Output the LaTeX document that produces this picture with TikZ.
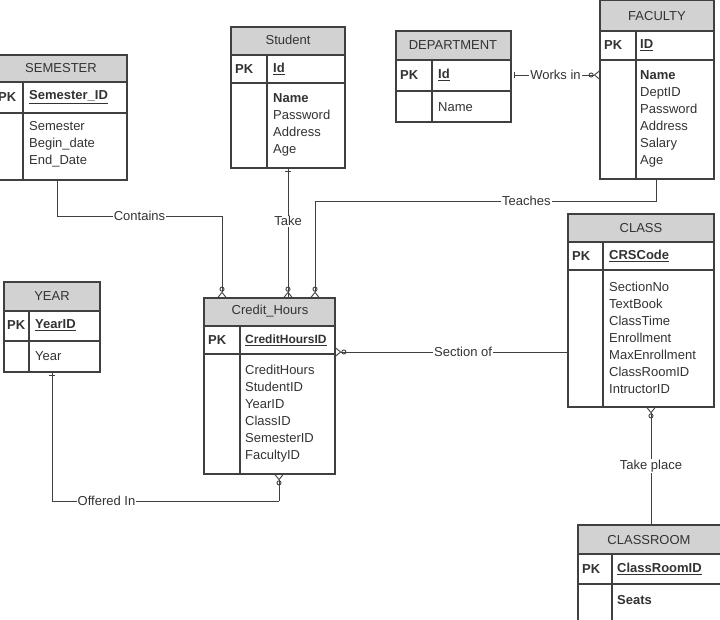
\documentclass[tikz,border=0pt]{standalone}
\usepackage{fontspec}
\setmainfont{Liberation Sans}
\usetikzlibrary{arrows.meta}
\newcommand\ert[8]{%
  \fill[gray!35] (#2,#5) rectangle (#3,#6);
  \draw[tline] (#2,#5) rectangle (#3,#8);
  \draw[tline] (#2,#6) -- (#3,#6) (#2,#7) -- (#3,#7) (#4,#6) -- (#4,#8);
  \node[inner sep=0pt,minimum width=#3pt-#2pt,minimum height=#8pt-#5pt] (#1) at ({(#2+#3)/2},{(#5+#8)/2}) {};
}
\begin{document}
\begin{tikzpicture}[x=1pt,y=-1pt,
  tline/.style={line width=1.1pt,draw=black!75},
  conn/.style={line width=0.9pt,draw=black!75},
  txt/.style={font=\fontsize{13}{17}\selectfont,inner sep=0pt,text=black!80},
  ttl/.style={txt},
  pk/.style={txt,font=\fontsize{13}{17}\selectfont\bfseries,anchor=west},
  body/.style={txt,anchor=north west,align=left},
  lab/.style={txt,fill=white,inner sep=1pt},
  zm/.style={-{Circle[open,length=5pt,sep=0pt]Straight Barb[reversed,length=5pt,width=8pt]}},
  one/.style={-{Bar[width=6pt]Bar[width=6pt,sep=2pt]}}]
\useasboundingbox (0,0) rectangle (720,620);
\clip (0,0) rectangle (720,620);
\fill[white] (0,0) rectangle (720,620);
% tables
\ert{sem}{-5}{127}{23}{55}{82}{113}{180}
\node[ttl] (semt) at (61,68) {SEMESTER};
\node[pk] (semp) at (-2,97) {PK};
\node[pk] (semk) at (29,97) {\underline{Semester\_ID}};
\node[body] (semb) at (29,121) {Semester\\Begin\_date\\End\_Date};

\ert{stu}{231}{345}{267}{27}{55}{83}{168}
\node[ttl] (stut) at (288,40) {Student};
\node[pk] (stup) at (235,69) {PK};
\node[pk] (stuk) at (273,69) {\underline{Id}};
\node[body] (stub) at (273,93) {\textbf{Name}\\Password\\Address\\Age};

\ert{dep}{396}{511}{432}{31}{60}{91}{122}
\node[ttl] (dept) at (453,45) {DEPARTMENT};
\node[pk] (depp) at (400,75) {PK};
\node[pk] (depk) at (438,75) {\underline{Id}};
\node[pk,font=\fontsize{13}{17}\selectfont] (depb) at (438,107) {Name};

\ert{fac}{600}{714}{636}{0}{31}{60}{179}
\node[ttl] (fact) at (657,16) {FACULTY};
\node[pk] (facp) at (604,45) {PK};
\node[pk] (fack) at (640,45) {\underline{ID}};
\node[body] (facb) at (640,70) {\textbf{Name}\\DeptID\\Password\\Address\\Salary\\Age};

\ert{cls}{568}{714}{603}{214}{242}{270}{407}
\node[ttl] (clst) at (641,228) {CLASS};
\node[pk] (clsp) at (572,256) {PK};
\node[pk] (clsk) at (609,256) {\underline{CRSCode}};
\node[body] (clsb) at (609,282) {SectionNo\\TextBook\\ClassTime\\Enrollment\\MaxEnrollment\\ClassRoomID\\IntructorID};

\ert{yr}{4}{100}{29}{282}{311}{341}{372}
\node[ttl] (yrt) at (52,296) {YEAR};
\node[pk] (yrp) at (7,325) {PK};
\node[pk] (yrk) at (35,325) {\underline{YearID}};
\node[pk,font=\fontsize{13}{17}\selectfont] (yrb) at (35,356) {Year};

\ert{ch}{204}{335}{240}{298}{326}{354}{474}
\node[ttl] (cht) at (270,311) {Credit\_Hours};
\node[pk] (chp) at (208,340) {PK};
\node[pk,font=\fontsize{12}{17}\selectfont\bfseries] (chk) at (245,340) {\underline{CreditHoursID}};
\node[body] (chb) at (245,365) {CreditHours\\StudentID\\YearID\\ClassID\\SemesterID\\FacultyID};

\ert{crm}{578}{730}{612}{525}{554}{584}{630}
\node[ttl] (crmt) at (649,540) {CLASSROOM};
\node[pk] (crmp) at (582,569) {PK};
\node[pk] (crmk) at (617,569) {\underline{ClassRoomID}};
\node[pk] (crmb) at (617,600) {Seats};

% connectors
\coordinate (x57) at (57,0);  \coordinate (x222) at (222,0);
\coordinate (x288) at (288,0); \coordinate (x315) at (315,0);
\coordinate (x656) at (656,0); \coordinate (x651) at (651,0);
\coordinate (x52) at (52,0);  \coordinate (x279) at (279,0);
\coordinate (y216) at (0,216); \coordinate (y201) at (0,201);
\coordinate (y501) at (0,501); \coordinate (y75) at (0,75);
\coordinate (y352) at (0,352);

\draw[conn,{Bar[width=6pt]}-] (x57 |- sem.south) |- (x222 |- y216) node[lab,pos=0.75] (l1) {Contains};
\draw[conn,zm] (x222 |- y216) -- (x222 |- ch.north);
\draw[conn,one,-] (x288 |- stu.south) -- (x288 |- ch.north) node[lab,pos=0.41] (l2) {Take};
\draw[conn,zm] (x288 |- ch.north) ++(0,-12) -- (x288 |- ch.north);
\draw[conn,{Bar[width=6pt]Bar[width=6pt,sep=2pt]}-] (x288 |- stu.south) -- ++(0,10);
\draw[conn,{Bar[width=6pt]}-] (x656 |- fac.south) |- (x315 |- y201) node[lab,pos=0.69] (l3) {Teaches};
\draw[conn,zm] (x315 |- y201) -- (x315 |- ch.north);
\draw[conn,{Bar[width=6pt,sep=3pt]}-{Circle[open,length=5pt,sep=0pt]Straight Barb[reversed,length=5pt,width=8pt]}] (dep.east |- y75) -- (fac.west |- y75) node[lab,midway] (l4) {Works in};
\draw[conn,{Straight Barb[reversed,length=5pt,width=8pt]Circle[open,length=5pt,sep=0pt]}-{Bar[width=5pt]}] (ch.east |- y352) -- (cls.west |- y352) node[lab,pos=0.55] (l5) {Section of};
\draw[conn,{Straight Barb[reversed,length=5pt,width=8pt]Circle[open,length=5pt,sep=0pt]}-{Bar[width=5pt]}] (x651 |- cls.south) -- (x651 |- crm.north) node[lab,midway] (l6) {Take place};
\draw[conn,{Bar[width=6pt]Bar[width=6pt,sep=2pt]}-] (x52 |- yr.south) |- (x279 |- y501) node[lab,pos=0.62] (l7) {Offered In};
\draw[conn,zm] (x279 |- y501) -- (x279 |- ch.south);
\end{tikzpicture}
\end{document}
